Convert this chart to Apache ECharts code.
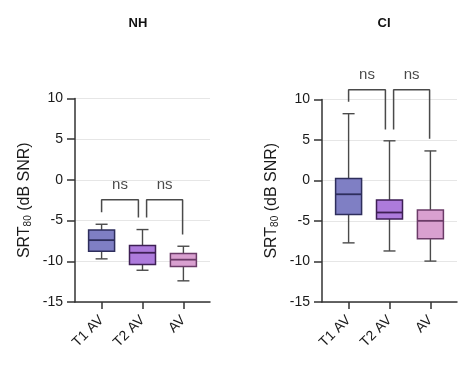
<!DOCTYPE html>
<html><head><meta charset="utf-8">
<script src="https://cdn.jsdelivr.net/npm/echarts@6/dist/echarts.min.js"></script>
<style>html,body{margin:0;padding:0;background:#fff}#c{width:474px;height:368px}</style>
</head><body><div id="c"></div>
<script>
// ---- data ----
const categories = ['T1 AV', 'T2 AV', 'AV'];
const yTicks = [-15, -10, -5, 0, 5, 10];
// [min, Q1, median, Q3, max]
const nhBoxes = [
  [-9.7, -8.75, -7.4, -6.15, -5.45],
  [-11.1, -10.4, -8.95, -8.05, -6.1],
  [-12.4, -10.65, -9.8, -9.05, -8.15]
];
const ciBoxes = [
  [-7.7, -4.2, -1.7, 0.25, 8.25],
  [-8.7, -4.75, -3.95, -2.4, 4.9],
  [-9.95, -7.2, -4.98, -3.65, 3.65]
];
// significance brackets: [xStart, xEnd, yTop, yLeftEnd, yRightEnd]
const nhBrackets = [[1, 1.9, -2.45, -3.97, -4.62], [2.1, 2.98, -2.45, -4.62, -6.7]];
const ciBrackets = [[1, 1.9, 11.2, 9.72, 6.3], [2.1, 2.98, 11.2, 6.3, 5.15]];
const nhSigLabels = [[1.45, -0.55, 'ns'], [2.54, -0.55, 'ns']];
const ciSigLabels = [[1.45, 13.1, 'ns'], [2.54, 13.1, 'ns']];

const fills = ['#7f7fc4', '#ad7bdc', '#d9a0d0'];
const borders = ['#2e2e5c', '#3e1f55', '#6b3b68'];
const whisker = '#4a4a4a';
const FONT = 'Liberation Sans, Arial, sans-serif';

function boxData(b) { return b.map((v, i) => [i + 1].concat(v)); }
function bracketData(brs) {
  const out = [];
  brs.forEach(b => {
    out.push([b[0], b[3]], [b[0], b[2]], [b[1], b[2]], [b[1], b[4]], [null, null]);
  });
  return out;
}
function renderBox(params, api) {
  const x = api.value(0);
  const pMin = api.coord([x, api.value(1)]);
  const pQ1 = api.coord([x, api.value(2)]);
  const pMed = api.coord([x, api.value(3)]);
  const pQ3 = api.coord([x, api.value(4)]);
  const pMax = api.coord([x, api.value(5)]);
  const hw = 13, cw = 6, cx = pMin[0];
  const i = params.dataIndex;
  const ws = { stroke: whisker, lineWidth: 1.4 };
  return { type: 'group', children: [
    { type: 'line', shape: { x1: cx, y1: pMax[1], x2: cx, y2: pQ3[1] }, style: ws },
    { type: 'line', shape: { x1: cx, y1: pMin[1], x2: cx, y2: pQ1[1] }, style: ws },
    { type: 'line', shape: { x1: cx - cw, y1: pMax[1], x2: cx + cw, y2: pMax[1] }, style: ws },
    { type: 'line', shape: { x1: cx - cw, y1: pMin[1], x2: cx + cw, y2: pMin[1] }, style: ws },
    { type: 'rect', shape: { x: cx - hw, y: pQ3[1], width: 2 * hw, height: pQ1[1] - pQ3[1] },
      style: { fill: fills[i], stroke: borders[i], lineWidth: 1.5 } },
    { type: 'line', shape: { x1: cx - hw, y1: pMed[1], x2: cx + hw, y2: pMed[1] },
      style: { stroke: borders[i], lineWidth: 1.8 } }
  ]};
}

const grids = [
  { left: 75, top: 98.5, width: 135, height: 203.5 },
  { left: 322, top: 99.5, width: 135, height: 202.5 }
];
function xAx(gi) {
  return { type: 'value', gridIndex: gi, min: 0.35, max: 3.65,
    axisLine: { show: true, onZero: false, lineStyle: { color: '#333', width: 1.5 } },
    axisTick: { show: true, customValues: [1, 2, 3], length: 7, lineStyle: { color: '#333', width: 1.5 } },
    axisLabel: { customValues: [1, 2, 3], formatter: v => categories[Math.round(v) - 1] || '',
      rotate: 45, margin: 16, fontSize: 14, color: '#1a1a1a', fontFamily: FONT },
    splitLine: { show: false } };
}
function yAx(gi) {
  return { type: 'value', gridIndex: gi, min: yTicks[0], max: yTicks[yTicks.length - 1], interval: 5,
    axisLine: { show: true, onZero: false, lineStyle: { color: '#333', width: 1.5 } },
    axisTick: { show: true, length: 8, lineStyle: { color: '#333', width: 1.5 } },
    axisLabel: { margin: 12, fontSize: 14, color: '#1a1a1a', fontFamily: FONT },
    splitLine: { show: true, lineStyle: { color: '#e6e6e6', width: 1.2 } },
    name: 'SRT{sub|80} (dB SNR)', nameLocation: 'middle', nameGap: 42,
    nameTextStyle: { fontSize: 16, color: '#1a1a1a', fontFamily: FONT,
      rich: { sub: { fontSize: 10, verticalAlign: 'bottom', padding: [6, 0, 0, 0], fontFamily: FONT, color: '#1a1a1a' } } } };
}
function seriesFor(gi, boxes, brs, labels) {
  return [
    { type: 'custom', xAxisIndex: gi, yAxisIndex: gi, renderItem: renderBox,
      encode: { x: 0, y: [1, 2, 3, 4, 5] }, data: boxData(boxes), z: 3 },
    { type: 'line', xAxisIndex: gi, yAxisIndex: gi, data: bracketData(brs), connectNulls: false,
      symbol: 'none', clip: false, lineStyle: { color: whisker, width: 1.5 }, z: 4, silent: true },
    { type: 'scatter', xAxisIndex: gi, yAxisIndex: gi, symbolSize: 0, clip: false,
      data: labels.map(l => ({ value: [l[0], l[1]], name: l[2] })),
      label: { show: true, position: 'inside', formatter: p => p.name, fontSize: 15, color: '#1a1a1a', fontFamily: FONT } }
  ];
}

const chart = echarts.init(document.getElementById('c'), null, { renderer: 'canvas' });
chart.setOption({
  animation: false,
  backgroundColor: '#fff',
  grid: grids,
  xAxis: [xAx(0), xAx(1)],
  yAxis: [yAx(0), yAx(1)],
  graphic: [
    { type: 'text', x: 138, y: 23, style: { text: 'NH', fontSize: 13, fontWeight: 'bold', fill: '#111', fontFamily: FONT, textAlign: 'center', textVerticalAlign: 'middle' } },
    { type: 'text', x: 384, y: 23, style: { text: 'CI', fontSize: 13, fontWeight: 'bold', fill: '#111', fontFamily: FONT, textAlign: 'center', textVerticalAlign: 'middle' } }
  ],
  series: seriesFor(0, nhBoxes, nhBrackets, nhSigLabels).concat(seriesFor(1, ciBoxes, ciBrackets, ciSigLabels))
});
</script></body></html>
